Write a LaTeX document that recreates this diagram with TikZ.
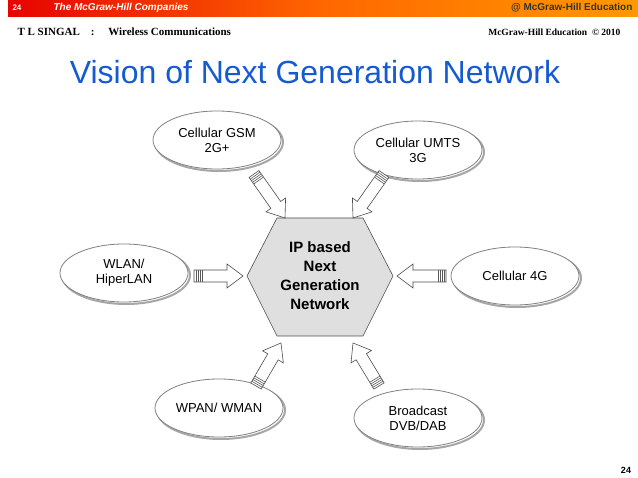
\documentclass[tikz,border=0pt]{standalone}
\usepackage{fontspec}
\setmainfont{Liberation Sans}
\newfontfamily\serif{Liberation Serif}
\usetikzlibrary{calc,shapes.geometric}
\definecolor{ttl}{RGB}{20,90,210}
\newcommand\barrow[2]{%
 \draw[gray!60!black,fill=white,line width=0.6pt]
  ($($(#1)!0pt!(#2)$)!6pt!90:(#2)$) --
  ($($(#2)!16pt!(#1)$)!6pt!-90:(#1)$) --
  ($($(#2)!16pt!(#1)$)!12pt!-90:(#1)$) -- (#2) --
  ($($(#2)!16pt!(#1)$)!12pt!90:(#1)$) --
  ($($(#2)!16pt!(#1)$)!6pt!90:(#1)$) --
  ($($(#1)!0pt!(#2)$)!6pt!-90:(#2)$) -- cycle;
 \foreach \d in {2,4,6,8}{\draw[gray!70!black,line width=0.6pt]
  ($($(#1)!\d pt!(#2)$)!6pt!90:(#2)$) -- ($($(#1)!\d pt!(#2)$)!6pt!-90:(#2)$);}}
\tikzset{oval/.style={ellipse,draw=gray,line width=0.8pt,fill=white,minimum width=128pt,minimum height=58pt,align=center,font=\fontsize{13}{15}\selectfont,inner sep=0pt},
 shad/.style={ellipse,draw=gray!70,line width=2pt,minimum width=128pt,minimum height=58pt}}
\newcommand\myoval[3]{\node[shad] at ($(#2)+(2,2)$) {}; \node[oval] (#1) at (#2) {#3};}
\begin{document}
\begin{tikzpicture}[x=1pt,y=-1pt]
\useasboundingbox (0,0) rectangle (638,478);
\shade[left color=red!90!black,right color=orange!80!yellow,middle color=red!20!orange] (0,0) rectangle (638,17);
\fill[white] (0,0) rectangle (8,20);
\node[font=\bfseries\fontsize{8}{9}\selectfont,text=white,anchor=west] (pg) at (9,8) {24};
\node[font=\bfseries\itshape\fontsize{10}{11}\selectfont,text=white,anchor=west] (co) at (50,8) {The McGraw-Hill Companies};
\node[font=\bfseries\fontsize{10}{11}\selectfont,text=black!80,anchor=east] (ed) at (636,8) {@ McGraw-Hill Education};
\node[font=\serif\bfseries\fontsize{11}{12}\selectfont,anchor=west] (au) at (14,32) {T L SINGAL\quad :\quad\ Wireless Communications};
\node[font=\serif\bfseries\fontsize{9.5}{10}\selectfont,anchor=east] (cp) at (624,32) {McGraw-Hill Education\ \ © 2010};
\node[font=\fontsize{32}{36}\selectfont,text=ttl] (title) at (315,72) {Vision of Next Generation Network};
\draw[gray!60!black,fill=gray!25,line width=0.6pt] (247,276) -- (277,218) -- (363,218) -- (393,276) -- (363,336) -- (277,336) -- cycle;
\node[font=\bfseries\fontsize{15}{19}\selectfont,align=center] (hub) at (320,276) {IP based\\Next\\Generation\\Network};
\myoval{gsm}{217,140}{Cellular GSM\\2G+}
\myoval{umts}{418,150}{Cellular UMTS\\3G}
\myoval{wlan}{124,273}{WLAN/\\HiperLAN}
\myoval{c4g}{515,276}{Cellular 4G}
\myoval{wpan}{219,408}{WPAN/ WMAN}
\myoval{bc}{418,418}{Broadcast\\DVB/DAB}
\coordinate (t1) at (254,174); \coordinate (h1) at (285,218);
\coordinate (t2) at (384,174); \coordinate (h2) at (353,218);
\coordinate (t3) at (194,276); \coordinate (h3) at (243,276);
\coordinate (t4) at (446,276); \coordinate (h4) at (397,276);
\coordinate (t5) at (256,386); \coordinate (h5) at (281,343);
\coordinate (t6) at (379,386); \coordinate (h6) at (353,343);
\barrow{t1}{h1}\barrow{t2}{h2}\barrow{t3}{h3}\barrow{t4}{h4}\barrow{t5}{h5}\barrow{t6}{h6}
\node[font=\bfseries\fontsize{9}{10}\selectfont] (num) at (626,470) {24};
\end{tikzpicture}
\end{document}
